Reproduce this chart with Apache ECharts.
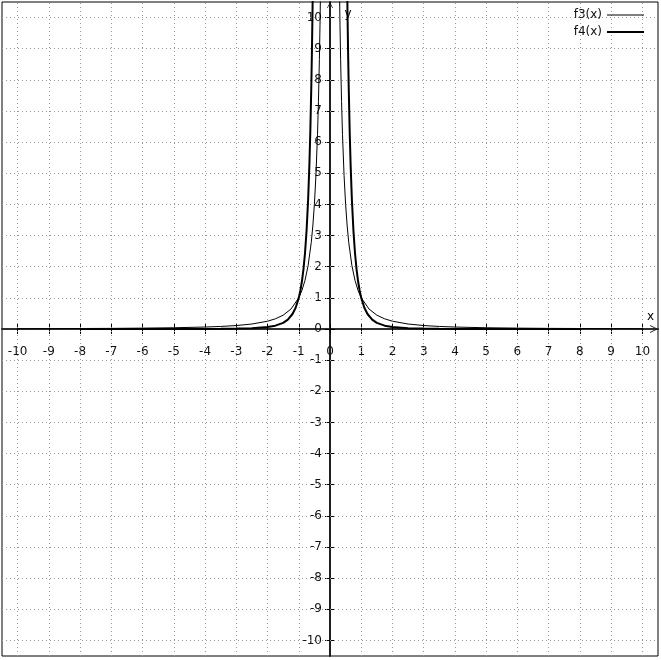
<!DOCTYPE html>
<html>
<head>
<meta charset="utf-8">
<script src="https://cdn.jsdelivr.net/npm/echarts@6/dist/echarts.min.js"></script>
<style>
html,body{margin:0;padding:0;background:#fff;}
#c{width:661px;height:660px;}
</style>
</head>
<body>
<div id="c"></div>
<script>
// Tick values / labels
var tickValues = [-10,-9,-8,-7,-6,-5,-4,-3,-2,-1,0,1,2,3,4,5,6,7,8,9,10];
var gridValues = [-10,-9,-8,-7,-6,-5,-4,-3,-2,-1,1,2,3,4,5,6,7,8,9,10];
var seriesNames = ['f3(x)','f4(x)'];

// f3(x) samples
var f3X = [-10,-9,-8,-7,-6,-5,-4,-3.5,-3,-2.5,-2,-1.75,-1.5,-1.25,-1,-0.9,-0.8,-0.7,-0.6,-0.55,-0.5,-0.45,-0.4,-0.37,-0.34,-0.32,-0.3,-0.28,
           0.28,0.3,0.32,0.34,0.37,0.4,0.45,0.5,0.55,0.6,0.7,0.8,0.9,1,1.25,1.5,1.75,2,2.5,3,3.5,4,5,6,7,8,9,10];
var f3Y = [0.01,0.012,0.016,0.02,0.028,0.04,0.063,0.082,0.111,0.16,0.25,0.327,0.444,0.64,1,1.235,1.563,2.041,2.778,3.306,4,4.938,6.25,7.305,8.651,9.766,11.11,12.76,
           12.76,11.11,9.766,8.651,7.305,6.25,4.938,4,3.306,2.778,2.041,1.563,1.235,1,0.64,0.444,0.327,0.25,0.16,0.111,0.082,0.063,0.04,0.028,0.02,0.016,0.012,0.01];

// f4(x) samples
var f4X = [-8,-7,-6,-5,-4,-3.5,-3,-2.5,-2,-1.75,-1.5,-1.35,-1.2,-1.1,-1,-0.95,-0.9,-0.85,-0.8,-0.75,-0.7,-0.66,-0.63,-0.6,-0.58,-0.56,-0.54,-0.52,
           0.52,0.54,0.56,0.58,0.6,0.63,0.66,0.7,0.75,0.8,0.85,0.9,0.95,1,1.1,1.2,1.35,1.5,1.75,2,2.5,3,3.5,4,5,6,7,8];
var f4Y = [0.0002,0.0004,0.0008,0.0016,0.0039,0.0067,0.0123,0.0256,0.0625,0.1066,0.1975,0.301,0.482,0.683,1,1.228,1.524,1.915,2.441,3.16,4.165,5.27,6.35,7.716,8.83,10.17,11.76,13.67,
           13.67,11.76,10.17,8.83,7.716,6.35,5.27,4.165,3.16,2.441,1.915,1.524,1.228,1,0.683,0.482,0.301,0.1975,0.1066,0.0625,0.0256,0.0123,0.0067,0.0039,0.0016,0.0008,0.0004,0.0002];

var f3Data = f3X.map(function(x,i){return [x,f3Y[i]];});
var f4Data = f4X.map(function(x,i){return [x,f4Y[i]];});

var FONT = 'DejaVu Sans';
var arrowPath = 'path://M0,10 L5,0 L10,10 L8.8,10 L5,2.4 L1.2,10 Z';
var GRID_W = 656, GRID_H = 654;

function xAxisCfg(primary){
  return {
    type:'value', min:-10.5, max:10.5,
    position: primary ? 'bottom' : 'top',
    offset: -GRID_H/2,
    name: primary ? 'x' : '',
    nameLocation:'end', nameGap:-11,
    nameTextStyle:{fontFamily:FONT,fontSize:12,color:'#000',verticalAlign:'bottom',align:'left',padding:[0,0,6,0]},
    axisLine:{show:true,onZero:false,
      symbol: primary ? ['none',arrowPath] : ['none','none'],
      symbolSize:[9,8], symbolOffset:[0,-4],
      lineStyle:{color:'#222',width:1.5}},
    axisTick:{show:true,inside:false,length:5,customValues:tickValues,lineStyle:{color:'#000',width:1}},
    axisLabel:{show:primary,customValues:tickValues,margin:17,fontFamily:FONT,fontSize:12,color:'#111',showMinLabel:true,showMaxLabel:true,hideOverlap:false},
    splitLine:{show:false}
  };
}
function yAxisCfg(primary){
  return {
    type:'value', min:-10.5, max:10.5,
    position: primary ? 'left' : 'right',
    offset: -GRID_W/2,
    name: primary ? 'y' : '',
    nameLocation:'end', nameGap:-18,
    nameTextStyle:{fontFamily:FONT,fontSize:12,color:'#000',padding:[0,0,0,36]},
    axisLine:{show:true,onZero:false,
      symbol: primary ? ['none',arrowPath] : ['none','none'],
      symbolSize:[13,6], symbolOffset:[0,-3],
      lineStyle:{color:'#111',width:1.5}},
    axisTick:{show:true,inside:false,length:5,customValues:tickValues,lineStyle:{color:'#000',width:1}},
    axisLabel:{show:primary,customValues:tickValues,margin:8,padding:[4,0,0,0],fontFamily:FONT,fontSize:12,color:'#111',showMinLabel:true,showMaxLabel:true,hideOverlap:false},
    splitLine:{show:false}
  };
}

var gridMarks = gridValues.map(function(v){return {xAxis:v};})
  .concat(gridValues.map(function(v){return {yAxis:v};}));

var thinIcon = 'path://M0,0 M37,14 M0,6.5 L37,6.5 L37,7.5 L0,7.5 Z';
var thickIcon = 'path://M0,0 M37,14 M0,6 L37,6 L37,8 L0,8 Z';

var chart = echarts.init(document.getElementById('c'), null, {renderer:'canvas'});
chart.setOption({
  animation:false,
  backgroundColor:'#fff',
  textStyle:{fontFamily:FONT},
  grid:{left:2,top:2,width:GRID_W,height:GRID_H,show:true,borderColor:'#000',borderWidth:1,backgroundColor:'#fff',
        containLabel:false, outerBoundsMode:'none'},
  legend:{
    orient:'vertical', right:12, top:3, align:'right',
    itemWidth:37, itemHeight:14, itemGap:3,
    textStyle:{fontFamily:FONT,fontSize:12,color:'#111'},
    data:[{name:seriesNames[0], icon:thinIcon},{name:seriesNames[1], icon:thickIcon}]
  },
  xAxis:[xAxisCfg(true), xAxisCfg(false)],
  yAxis:[yAxisCfg(true), yAxisCfg(false)],
  series:[
    {name:seriesNames[0], type:'line', data:f3Data, showSymbol:false, symbol:'none', clip:true,
     lineStyle:{color:'#000',width:1}, itemStyle:{color:'#000'},
     markLine:{silent:true, symbol:['none','none'], label:{show:false}, animation:false, z:1,
       lineStyle:{color:'#999',width:1,type:[1,3]}, emphasis:{disabled:true}, data:gridMarks}},
    {name:seriesNames[1], type:'line', data:f4Data, showSymbol:false, symbol:'none', clip:true,
     lineStyle:{color:'#000',width:2}, itemStyle:{color:'#000'}}
  ]
});
</script>
</body>
</html>
